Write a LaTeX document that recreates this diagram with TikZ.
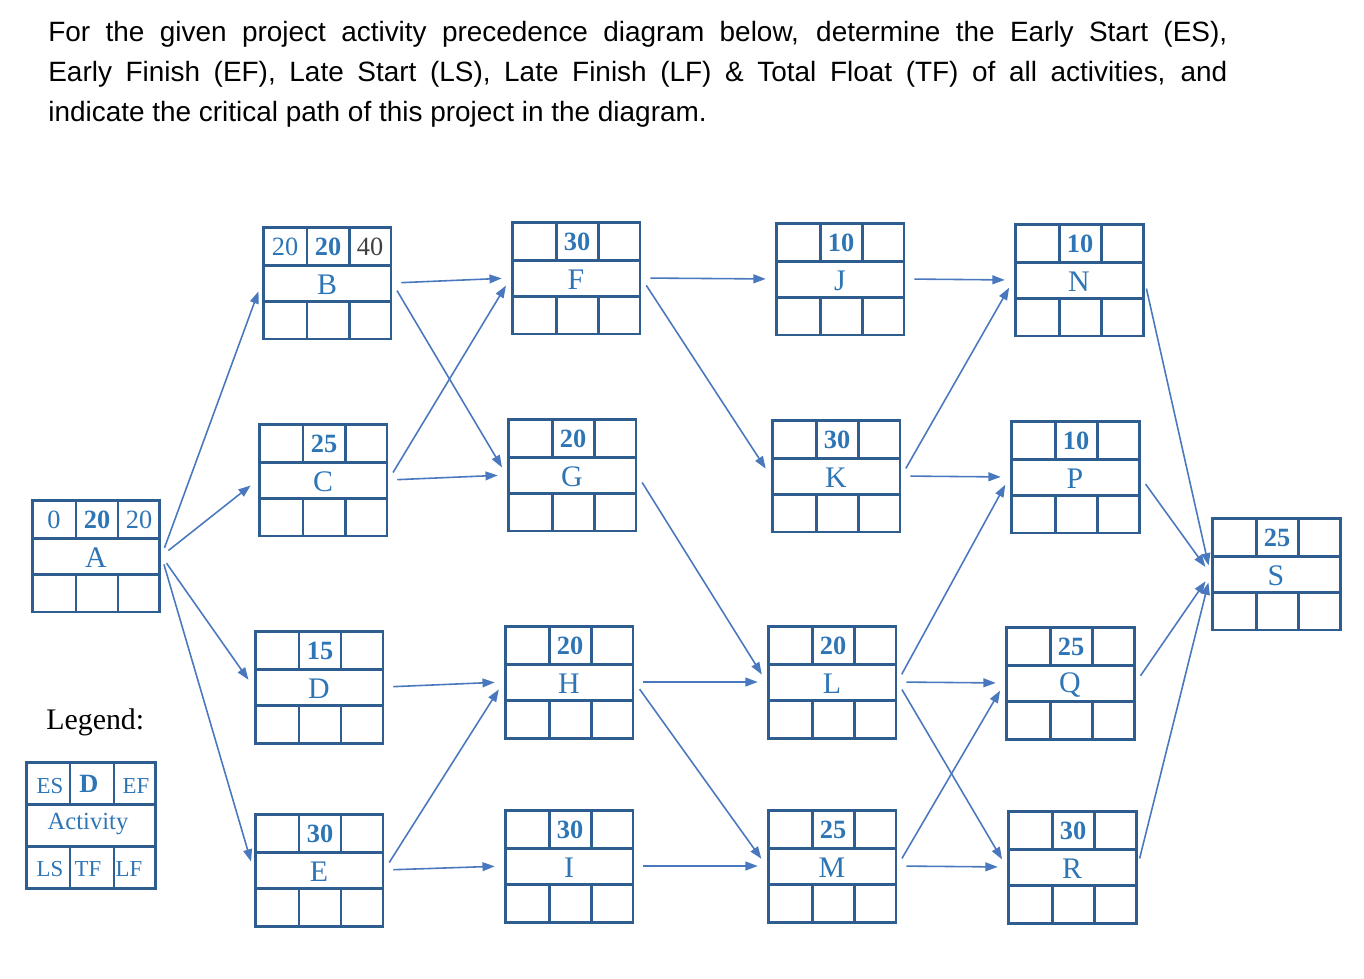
\documentclass[tikz,border=0pt]{standalone}
\usepackage{fontspec}
\setmainfont{Liberation Serif}
\newfontfamily\hdfont{Liberation Sans}
\usetikzlibrary{calc,arrows.meta}
\definecolor{boxc}{HTML}{2F5D8F}
\definecolor{txtc}{HTML}{2E75B6}
\definecolor{arrc}{HTML}{4A78BE}
\tikzset{x=0.02cm,y=-0.02cm,
 boxn/.style={draw=boxc,line width=1.7pt,minimum width=2.56cm,minimum height=2.24cm,inner sep=0pt},
 inl/.style={draw=boxc,line width=1.7pt},
 lett/.style={text=txtc,font=\fontsize{17}{17}\selectfont,inner sep=0pt},
 num/.style={text=txtc,font=\bfseries\fontsize{15}{15}\selectfont,inner sep=0pt},
 numr/.style={text=txtc,font=\fontsize{15}{15}\selectfont,inner sep=0pt},
 arr/.style={draw=arrc,line width=0.9pt,-{Triangle[length=7pt,width=5pt]},shorten >=5pt,shorten <=5pt}}
\newcommand\actbox[7]{%
 \node[boxn] (#1) at (#2+64,#3+56) {};
 \draw[inl] (#2,#3+38) -- (#2+128,#3+38);
 \draw[inl] (#2,#3+74) -- (#2+128,#3+74);
 \draw[inl] (#2+44,#3) -- (#2+44,#3+38);
 \draw[inl] (#2+86,#3) -- (#2+86,#3+38);
 \draw[inl] (#2+44,#3+74) -- (#2+44,#3+112);
 \draw[inl] (#2+86,#3+74) -- (#2+86,#3+112);
 \node[numr] at (#2+22,#3+20) {#4};
 \node[num] at (#2+65,#3+20) {#5};
 \node[numr] at (#2+107,#3+20) {#6};
 \node[lett] at (#2+64,#3+58) {#7};
}
\begin{document}
\begin{tikzpicture}
\useasboundingbox (0,0) rectangle (1364,978);
\node[anchor=north west,inner sep=0pt,text width=671pt,align=justify,font=\hdfont\fontsize{15.9}{22.7}\selectfont] (hdr) at (48,21)
{For the given project activity precedence diagram below, determine the Early Start (ES),\linebreak Early Finish (EF), Late Start (LS), Late Finish (LF) \& Total Float (TF) of all activities, and\linebreak indicate the critical path of this project in the diagram.};
\actbox{A}{32}{500}{0}{20}{20}{A}
\actbox{B}{263}{227}{20}{20}{\textcolor{black!75}{40}}{B}
\actbox{C}{259}{424}{}{25}{}{C}
\actbox{D}{255}{631}{}{15}{}{D}
\actbox{E}{255}{814}{}{30}{}{E}
\actbox{F}{512}{222}{}{30}{}{F}
\actbox{G}{508}{419}{}{20}{}{G}
\actbox{H}{505}{626}{}{20}{}{H}
\actbox{I}{505}{810}{}{30}{}{I}
\actbox{J}{776}{223}{}{10}{}{J}
\actbox{K}{772}{420}{}{30}{}{K}
\actbox{L}{768}{626}{}{20}{}{L}
\actbox{M}{768}{810}{}{25}{}{M}
\actbox{N}{1015}{224}{}{10}{}{N}
\actbox{P}{1011}{421}{}{10}{}{P}
\actbox{Q}{1006}{627}{}{25}{}{Q}
\actbox{R}{1008}{811}{}{30}{}{R}
\actbox{S}{1212}{518}{}{25}{}{S}
% legend
\node[anchor=west,inner sep=0pt,font=\fontsize{17}{17}\selectfont] (leg) at (46,722) {Legend:};
\node[draw=boxc,line width=1.7pt,minimum width=2.6cm,minimum height=2.52cm,inner sep=0pt] (lg) at (91,825) {};
\draw[inl] (26,804) -- (156,804);
\draw[inl] (26,846) -- (156,846);
\draw[inl] (70,762) -- (70,804); \draw[inl] (114,762) -- (114,804);
\draw[inl] (70,846) -- (70,888); \draw[inl] (114,846) -- (114,888);
\node[text=txtc,font=\fontsize{13}{13}\selectfont] at (50,786) {ES};
\node[text=txtc,font=\bfseries\fontsize{15}{15}\selectfont] at (89,784) {D};
\node[text=txtc,font=\fontsize{13}{13}\selectfont] at (136,786) {EF};
\node[text=txtc,font=\fontsize{14}{14}\selectfont] at (88,824) {Activity};
\node[text=txtc,font=\fontsize{13}{13}\selectfont] at (50,869) {LS};
\node[text=txtc,font=\fontsize{13}{13}\selectfont] at (88,869) {TF};
\node[text=txtc,font=\fontsize{13}{13}\selectfont] at (129,869) {LF};
% arrows
\foreach \a/\b in {A/B,A/C,A/D,A/E,B/F,B/G,C/F,C/G,D/H,E/H,E/I,F/J,F/K,G/L,H/L,H/M,I/M,J/N,K/N,K/P,L/P,L/Q,L/R,M/Q,M/R,N/S,P/S,Q/S,R/S}
 \draw[arr] (\a.east) -- (\b.west);
\end{tikzpicture}
\end{document}
